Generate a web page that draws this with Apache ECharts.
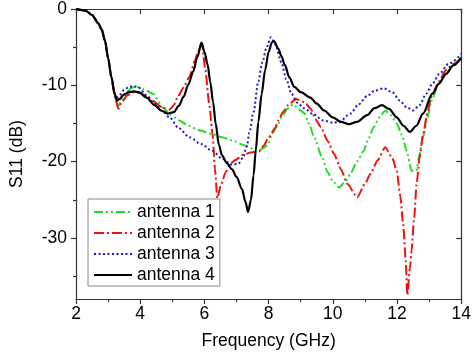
<!DOCTYPE html>
<html>
<head>
<meta charset="utf-8">
<script src="https://cdn.jsdelivr.net/npm/echarts@6/dist/echarts.min.js"></script>
<style>html,body{margin:0;padding:0;background:#fff;}#c{width:474px;height:356px;}</style>
</head>
<body>
<div id="c"></div>
<script>
const seriesNames = ['antenna 1', 'antenna 2', 'antenna 3', 'antenna 4'];
const xTicks = [2, 4, 6, 8, 10, 12, 14];
const yMajorTicks = [0, -10, -20, -30];
const yMinorTicks = [-5, -15, -25, -35];

const antenna1 = [[2,0],[2.3,-0.2],[2.5,-0.8],[2.7,-1.9],[2.8,-2.7],[2.9,-4.1],[3.0,-6.4],[3.1,-8.9],[3.2,-11.1],[3.3,-12.8],[3.42,-12.0],[3.6,-10.8],[3.75,-10.3],[3.88,-10.2],[4.1,-10.5],[4.4,-11.1],[4.7,-12.9],[4.95,-13.9],[5.22,-14.6],[5.5,-15.3],[5.84,-15.9],[6.25,-16.4],[6.55,-16.8],[6.86,-17.2],[7.27,-17.9],[7.5,-18.3],[7.68,-18.6],[7.85,-18.2],[7.99,-17.7],[8.1,-16.4],[8.3,-15.0],[8.4,-14.2],[8.6,-13.0],[8.76,-12.5],[9.0,-13.3],[9.12,-13.7],[9.25,-15.0],[9.43,-16.9],[9.65,-19.3],[9.84,-21.4],[10.0,-22.6],[10.2,-23.4],[10.4,-22.5],[10.55,-21.6],[10.75,-20.0],[10.96,-18.6],[11.1,-17.1],[11.27,-15.5],[11.45,-14.2],[11.63,-13.3],[11.8,-13.9],[11.99,-15.0],[12.15,-16.5],[12.3,-18.6],[12.45,-21.2],[12.6,-21.2],[12.7,-19.0],[12.81,-16.8],[12.95,-14.2],[13.07,-12.0],[13.3,-9.8],[13.53,-8.0],[13.75,-7.2],[14,-6.4]];

const antenna2 = [[2,0],[2.3,-0.2],[2.5,-0.8],[2.7,-1.9],[2.8,-2.7],[2.9,-4.1],[3.0,-6.4],[3.1,-8.9],[3.2,-11.2],[3.32,-13.1],[3.42,-12.2],[3.6,-11.3],[3.8,-10.9],[4.0,-11.0],[4.3,-11.8],[4.7,-12.9],[4.91,-13.2],[5.05,-12.6],[5.17,-11.5],[5.35,-10.3],[5.53,-8.9],[5.7,-6.8],[5.8,-5.6],[5.92,-4.5],[6.03,-8.0],[6.15,-12.5],[6.25,-16.3],[6.33,-21.0],[6.4,-24.8],[6.52,-23.0],[6.66,-21.4],[6.8,-20.3],[6.96,-19.8],[7.2,-19.1],[7.45,-18.8],[7.7,-18.7],[7.85,-17.9],[8.0,-16.8],[8.19,-15.7],[8.3,-14.6],[8.45,-13.5],[8.6,-12.6],[8.86,-11.8],[9.12,-12.2],[9.32,-13.1],[9.45,-14.4],[9.63,-15.5],[9.84,-17.3],[10.04,-19.0],[10.25,-21.0],[10.45,-22.9],[10.76,-24.7],[11.0,-22.9],[11.17,-21.6],[11.4,-19.8],[11.63,-18.1],[11.85,-19.5],[11.99,-21.2],[12.1,-24.5],[12.19,-28.2],[12.27,-33.0],[12.32,-37.5],[12.4,-34.0],[12.45,-31.7],[12.53,-27.5],[12.61,-22.9],[12.7,-19.5],[12.81,-16.4],[12.95,-13.5],[13.07,-11.5],[13.3,-9.5],[13.53,-8.0],[13.75,-7.2],[14,-6.4]];

const antenna3 = [[2,0],[2.3,-0.2],[2.5,-0.8],[2.7,-1.9],[2.8,-2.7],[2.9,-4.1],[3.0,-6.4],[3.1,-8.9],[3.2,-11.0],[3.25,-11.8],[3.33,-11.4],[3.5,-10.6],[3.65,-10.2],[3.8,-10.1],[3.95,-10.3],[4.2,-11.3],[4.45,-12.4],[4.7,-13.4],[4.91,-14.2],[5.2,-15.6],[5.53,-16.8],[5.9,-17.7],[6.25,-18.6],[6.55,-19.6],[6.86,-20.4],[7.05,-20.3],[7.2,-19.5],[7.32,-18.0],[7.4,-16.2],[7.53,-13.5],[7.68,-9.5],[7.8,-7.0],[7.94,-5.0],[8.07,-3.7],[8.2,-4.6],[8.4,-7.0],[8.55,-9.2],[8.71,-11.1],[8.9,-12.3],[9.1,-13.0],[9.4,-13.8],[9.7,-14.6],[10.0,-14.9],[10.2,-14.8],[10.55,-13.7],[10.8,-12.5],[11.07,-11.4],[11.3,-10.7],[11.58,-10.4],[11.85,-10.9],[12.09,-12.0],[12.3,-12.9],[12.5,-13.3],[12.7,-12.6],[12.91,-11.1],[13.1,-9.8],[13.32,-8.5],[13.6,-7.2],[14,-5.9]];

const antenna4 = [[2,0],[2.3,-0.2],[2.5,-0.8],[2.7,-1.9],[2.8,-2.7],[2.9,-4.1],[3.0,-6.4],[3.1,-8.9],[3.2,-11.0],[3.27,-12.0],[3.35,-11.8],[3.5,-11.2],[3.65,-10.9],[3.8,-10.8],[3.95,-10.9],[4.2,-11.6],[4.45,-12.6],[4.65,-13.3],[4.86,-13.7],[5.05,-13.5],[5.2,-12.7],[5.35,-11.5],[5.5,-9.9],[5.65,-8.2],[5.78,-6.3],[5.91,-4.4],[6.0,-5.6],[6.1,-7.3],[6.18,-9.5],[6.27,-12.2],[6.35,-15.0],[6.45,-17.8],[6.55,-19.2],[6.7,-20.2],[6.86,-21.0],[7.0,-22.0],[7.17,-23.6],[7.28,-25.3],[7.36,-26.6],[7.45,-25.0],[7.53,-21.8],[7.6,-18.5],[7.68,-14.8],[7.78,-11.2],[7.89,-8.0],[8.0,-5.6],[8.1,-4.4],[8.17,-4.2],[8.3,-5.2],[8.4,-6.2],[8.5,-7.3],[8.65,-9.0],[8.8,-10.2],[9.0,-10.9],[9.3,-11.6],[9.5,-12.4],[9.73,-13.3],[10.0,-14.2],[10.25,-14.8],[10.5,-15.1],[10.75,-14.8],[11.07,-13.9],[11.3,-13.0],[11.53,-12.6],[11.75,-13.1],[11.99,-14.2],[12.2,-15.3],[12.4,-16.1],[12.6,-15.3],[12.81,-13.7],[13.1,-11.1],[13.3,-9.8],[13.53,-8.5],[13.75,-7.4],[14,-6.4]];

const FONT = "'Liberation Sans', Arial, sans-serif";
const AX = '#333';
const chart = echarts.init(document.getElementById('c'), null, {renderer: 'canvas'});

function lineSeries(name, data, color, dash, smooth, width) {
  return {
    name, type: 'line', data, xAxisIndex: 0, yAxisIndex: 0,
    symbol: 'none', smooth: smooth, smoothMonotone: 'x', animation: false,
    lineStyle: {color, width: width, type: dash},
    itemStyle: {color}
  };
}

chart.setOption({
  animation: false,
  backgroundColor: '#fff',
  grid: {left: 72, right: 12, top: 9, bottom: 57, containLabel: false},
  legend: {
    orient: 'vertical', left: 88, top: 199,
    data: seriesNames,
    itemWidth: 38, itemHeight: 14, itemGap: 3,
    padding: [4, 5, 2, 5],
    backgroundColor: '#fff', borderColor: '#888', borderWidth: 1, borderRadius: 0,
    itemStyle: {opacity: 0, borderWidth: 0},
    textStyle: {fontFamily: FONT, fontSize: 17.5, color: '#000'}
  },
  xAxis: [
    {
      type: 'value', min: 2, max: 14, interval: 2, position: 'bottom',
      name: 'Frequency (GHz)', nameLocation: 'middle', nameGap: 33,
      nameTextStyle: {fontFamily: FONT, fontSize: 17.5, color: '#000'},
      axisLine: {onZero: false, lineStyle: {color: AX, width: 1.2}},
      axisTick: {inside: false, length: 5, lineStyle: {color: AX, width: 1.2}},
      minorTick: {show: true, splitNumber: 2, length: 3, lineStyle: {color: AX, width: 1.2}},
      axisLabel: {fontFamily: FONT, fontSize: 17.5, color: '#000', margin: 6},
      splitLine: {show: false}
    },
    {
      type: 'value', min: 2, max: 14, interval: 2, position: 'top',
      axisLine: {onZero: false, lineStyle: {color: AX, width: 1.2}},
      axisTick: {inside: true, length: 5, lineStyle: {color: AX, width: 1.2}},
      axisLabel: {show: false}, splitLine: {show: false}
    }
  ],
  yAxis: [
    {
      type: 'value', min: -38, max: 0, position: 'left',
      name: 'S11 (dB)', nameLocation: 'middle', nameGap: 50, nameRotate: 90,
      nameTextStyle: {fontFamily: FONT, fontSize: 17.5, color: '#000'},
      axisLine: {onZero: false, lineStyle: {color: AX, width: 1.2}},
      axisTick: {inside: false, length: 5, customValues: yMajorTicks, lineStyle: {color: AX, width: 1.2}},
      axisLabel: {fontFamily: FONT, fontSize: 17.5, color: '#000', margin: 9, customValues: yMajorTicks},
      splitLine: {show: false}
    },
    {
      type: 'value', min: -38, max: 0, position: 'right',
      axisLine: {onZero: false, lineStyle: {color: AX, width: 1.2}},
      axisTick: {inside: true, length: 5, customValues: yMajorTicks, lineStyle: {color: AX, width: 1.2}},
      axisLabel: {show: false, customValues: yMajorTicks}, splitLine: {show: false}
    },
    {
      type: 'value', min: -38, max: 0, position: 'left',
      axisLine: {show: false, onZero: false},
      axisTick: {inside: false, length: 3, customValues: yMinorTicks, lineStyle: {color: AX, width: 1.2}},
      axisLabel: {show: false, customValues: yMinorTicks}, splitLine: {show: false}
    }
  ],
  series: [
    lineSeries(seriesNames[0], antenna1, '#22dd22', [9, 3, 2, 3, 2, 3], 0.2, 2),
    lineSeries(seriesNames[1], antenna2, '#ee1111', [10, 3, 2, 3], 0.2, 2),
    lineSeries(seriesNames[2], antenna3, '#1a1acc', [2, 2.5], 0.3, 2),
    lineSeries(seriesNames[3], antenna4, '#000000', 'solid', 0.3, 2.2)
  ]
});
</script>
</body>
</html>
